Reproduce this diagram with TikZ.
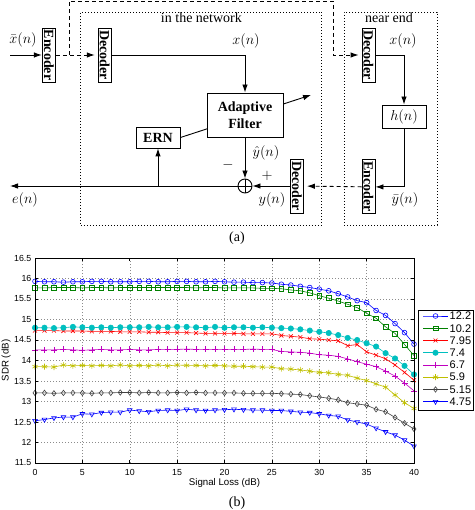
\documentclass[tikz,border=0pt]{standalone}
\usepackage{fontspec}
\setmainfont{Liberation Serif}
\newfontfamily\plotfont{Liberation Sans}
\usepackage{tikz}
\usetikzlibrary{arrows.meta,positioning,calc,plotmarks,backgrounds}
\definecolor{mlgreen}{rgb}{0,0.5,0}
\definecolor{mlcyan}{rgb}{0,0.75,0.75}
\definecolor{mlmag}{rgb}{0.75,0,0.75}
\definecolor{mlyel}{rgb}{0.75,0.75,0}
\definecolor{mlgray}{rgb}{0.25,0.25,0.25}
\tikzset{
  codec/.style={rectangle, draw, line width=0.9pt, font=\bfseries, inner sep=1pt,
                minimum width=13pt, minimum height=54pt, fill=white},
  blk/.style={rectangle, draw, line width=0.9pt, align=center, inner sep=2pt, fill=white},
  region/.style={rectangle, draw, line width=0.9pt, dash pattern=on 0.9pt off 2.1pt},
  sumpt/.style={circle, draw, line width=0.9pt, minimum size=14pt, inner sep=0pt},
  fl/.style={-{Latex[length=8pt,width=5.5pt]}, line width=0.9pt},
  dfl/.style={fl, dash pattern=on 4pt off 3pt, shorten >=3pt},
  sig/.style={inner sep=0pt},
  gridln/.style={black!45, line width=0.4pt, dash pattern=on 0.8pt off 2.2pt},
  crv/.style={line width=0.6pt, mark size=2.4pt},
  cA/.style={crv, color=blue, mark=o},
  cB/.style={crv, color=mlgreen, mark=square},
  cC/.style={crv, color=red, mark=x, mark size=2.8pt},
  cD/.style={crv, color=mlcyan, mark=*, mark size=2.7pt},
  cE/.style={crv, color=mlmag, mark=+, mark size=3pt},
  cF/.style={crv, color=mlyel, mark=asterisk, mark size=3pt},
  cG/.style={crv, color=mlgray, mark=diamond, mark size=2.7pt},
  cH/.style={crv, color=blue, mark=triangle, mark options={rotate=180}, mark size=2.7pt},
  ticklbl/.style={font=\plotfont\fontsize{8.8}{10}\selectfont, inner sep=1pt},
  axlbl/.style={font=\plotfont\fontsize{9.7}{11}\selectfont, inner sep=1pt},
  leglbl/.style={font=\plotfont\fontsize{11}{13}\selectfont, inner sep=0pt, anchor=west},
}

\begin{document}
\begin{tikzpicture}[x=1pt, y=-1pt, execute at begin picture={\fontsize{14}{17}\selectfont}]
\useasboundingbox (0,0) rectangle (474,510);
% (a) echo path
\node[region, minimum width=241pt, minimum height=213pt] (net) at (201.4,118.5) {};
\node[region, minimum width=93pt, minimum height=213pt] (near) at (390.5,118.5) {};
\node[anchor=base] (netlbl) at (201.4,23) {in the network};
\node[anchor=base] (nearlbl) at (389,23) {near end};
\node[codec] (enc1) at (48.8,55) {\rotatebox{-90}{Encoder}};
\node[codec, right=42pt of enc1] (dec1) {\rotatebox{-90}{Decoder}};
\node[codec] (dec3) at (368.5,55) {\rotatebox{-90}{Decoder}};
\node[blk, minimum width=44pt, minimum height=23pt] (hn) at (404,116.5) {$h(n)$};
\node[codec, below=77pt of dec3] (enc2) {\rotatebox{-90}{Encoder}};
\node[codec] (dec2) at (297,186) {\rotatebox{-90}{Decoder}};
\node[blk, font=\bfseries, minimum width=76pt, minimum height=44pt] (af) at (245,115) {Adaptive\\Filter};
\node[blk, font=\bfseries, minimum width=44pt, minimum height=21pt] (ern) at (158,137.5) {ERN};
\node[sumpt] (sum) at (245,186) {};
\draw[line width=0.9pt] (sum.north) -- (sum.south) (sum.west) -- (sum.east);
\node[sig] (lxbar) at (23,40) {$\bar{x}(n)$};
\node[sig] (len) at (25,200) {$e(n)$};
\node[sig] (lx1) at (246,41) {$x(n)$};
\node[sig] (lx2) at (403,41) {$x(n)$};
\node[sig] (lyhat) at (266,153) {$\hat{y}(n)$};
\node[sig] (lminus) at (228,165) {$-$};
\node[sig] (lplus) at (267,176) {$+$};
\node[sig] (ly) at (272,200) {$y(n)$};
\node[sig] (lybar) at (405,200) {$\bar{y}(n)$};
\node (capa) at (237,238) {(a)};
\coordinate (xin) at (10,55);
\coordinate (eout) at (10,186);
\coordinate (tap) at (69.3,55);
\coordinate (tapup) at (69.3,1);
\coordinate (topr) at (333.3,1);
\coordinate (adapt) at (311,95);
\draw[fl] (xin) -- (enc1);
\draw[dfl] (enc1) -- (dec1);
\draw[dfl] (tap) -- (tapup) -- (topr) |- (dec3);
\draw[fl] (dec1) -| (af);
\draw[fl] (af) -- (sum);
\draw[fl] (dec2) -- (sum);
\draw[dfl] (enc2) -- (dec2);
\draw[fl] (dec3) -| (hn);
\draw[fl] (hn) |- (enc2);
\draw[fl] (sum) -- (eout);
\draw[fl] (ern |- sum) -- (ern);
\begin{scope}[on background layer]
\draw[fl] (ern.east) -- (adapt);
\end{scope}
% (b) SDR against signal loss
\begin{scope}[shift={(35,934.5)}, x=9.475pt, y=41pt]
\foreach \gx in {5,10,...,35} \draw[gridln] (\gx,11.5) -- (\gx,16.5);
\foreach \gy in {12,12.5,13,13.5,14,14.5,15,15.5,16} \draw[gridln] (0,\gy) -- (40,\gy);
\draw[cA] plot coordinates {(0,15.93) (1,15.92) (2,15.92) (3,15.91) (4,15.92) (5,15.92) (6,15.93) (7,15.93) (8,15.92) (9,15.92) (10,15.92) (11,15.93) (12,15.93) (13,15.92) (14,15.92) (15,15.93) (16,15.93) (17,15.92) (18,15.92) (19,15.93) (20,15.92) (21,15.91) (22,15.91) (23,15.90) (24,15.90) (25,15.89) (26,15.86) (27,15.84) (28,15.81) (29,15.78) (30,15.74) (31,15.70) (32,15.63) (33,15.55) (34,15.46) (35,15.41) (36,15.22) (37,15.10) (38,14.90) (39,14.68) (40,14.40)};
\draw[cB] plot coordinates {(0,15.77) (1,15.77) (2,15.78) (3,15.78) (4,15.78) (5,15.77) (6,15.78) (7,15.78) (8,15.77) (9,15.78) (10,15.78) (11,15.78) (12,15.78) (13,15.78) (14,15.78) (15,15.78) (16,15.78) (17,15.77) (18,15.78) (19,15.78) (20,15.77) (21,15.77) (22,15.77) (23,15.77) (24,15.76) (25,15.76) (26,15.75) (27,15.72) (28,15.70) (29,15.65) (30,15.58) (31,15.52) (32,15.45) (33,15.37) (34,15.29) (35,15.15) (36,15.03) (37,14.82) (38,14.66) (39,14.39) (40,14.12)};
\draw[cC] plot coordinates {(0,14.73) (1,14.73) (2,14.73) (3,14.72) (4,14.72) (5,14.72) (6,14.71) (7,14.71) (8,14.71) (9,14.70) (10,14.70) (11,14.70) (12,14.69) (13,14.69) (14,14.68) (15,14.68) (16,14.68) (17,14.67) (18,14.66) (19,14.66) (20,14.66) (21,14.66) (22,14.65) (23,14.65) (24,14.65) (25,14.65) (26,14.61) (27,14.59) (28,14.57) (29,14.53) (30,14.52) (31,14.50) (32,14.48) (33,14.36) (34,14.39) (35,14.21) (36,14.13) (37,14.04) (38,13.89) (39,13.71) (40,13.52)};
\draw[cD] plot coordinates {(0,14.80) (1,14.80) (2,14.79) (3,14.80) (4,14.82) (5,14.81) (6,14.80) (7,14.81) (8,14.80) (9,14.81) (10,14.81) (11,14.81) (12,14.82) (13,14.81) (14,14.81) (15,14.82) (16,14.82) (17,14.81) (18,14.80) (19,14.82) (20,14.80) (21,14.81) (22,14.81) (23,14.80) (24,14.81) (25,14.80) (26,14.79) (27,14.78) (28,14.76) (29,14.73) (30,14.70) (31,14.67) (32,14.62) (33,14.55) (34,14.50) (35,14.42) (36,14.34) (37,14.18) (38,14.05) (39,13.87) (40,13.66)};
\draw[cE] plot coordinates {(0,14.26) (1,14.26) (2,14.26) (3,14.27) (4,14.26) (5,14.25) (6,14.26) (7,14.27) (8,14.26) (9,14.26) (10,14.27) (11,14.26) (12,14.26) (13,14.27) (14,14.27) (15,14.27) (16,14.28) (17,14.27) (18,14.27) (19,14.27) (20,14.27) (21,14.27) (22,14.27) (23,14.28) (24,14.27) (25,14.27) (26,14.22) (27,14.21) (28,14.20) (29,14.18) (30,14.14) (31,14.13) (32,14.10) (33,14.04) (34,13.97) (35,13.91) (36,13.85) (37,13.74) (38,13.62) (39,13.45) (40,13.26)};
\draw[cF] plot coordinates {(0,13.85) (1,13.85) (2,13.84) (3,13.89) (4,13.87) (5,13.88) (6,13.87) (7,13.88) (8,13.87) (9,13.89) (10,13.87) (11,13.88) (12,13.87) (13,13.89) (14,13.87) (15,13.89) (16,13.88) (17,13.88) (18,13.87) (19,13.88) (20,13.87) (21,13.86) (22,13.86) (23,13.85) (24,13.84) (25,13.84) (26,13.80) (27,13.79) (28,13.77) (29,13.74) (30,13.71) (31,13.70) (32,13.66) (33,13.64) (34,13.57) (35,13.51) (36,13.43) (37,13.35) (38,13.16) (39,12.97) (40,12.83)};
\draw[cG] plot coordinates {(0,13.21) (1,13.21) (2,13.20) (3,13.21) (4,13.21) (5,13.21) (6,13.20) (7,13.21) (8,13.21) (9,13.22) (10,13.22) (11,13.21) (12,13.22) (13,13.21) (14,13.21) (15,13.22) (16,13.21) (17,13.22) (18,13.21) (19,13.21) (20,13.21) (21,13.21) (22,13.20) (23,13.20) (24,13.20) (25,13.20) (26,13.19) (27,13.18) (28,13.17) (29,13.14) (30,13.11) (31,13.08) (32,13.04) (33,12.97) (34,12.94) (35,12.91) (36,12.81) (37,12.75) (38,12.61) (39,12.47) (40,12.33)};
\draw[cH] plot coordinates {(0,12.53) (1,12.56) (2,12.60) (3,12.62) (4,12.62) (5,12.70) (6,12.69) (7,12.73) (8,12.74) (9,12.74) (10,12.79) (11,12.77) (12,12.75) (13,12.78) (14,12.79) (15,12.78) (16,12.81) (17,12.79) (18,12.78) (19,12.79) (20,12.80) (21,12.81) (22,12.80) (23,12.79) (24,12.79) (25,12.78) (26,12.78) (27,12.76) (28,12.74) (29,12.73) (30,12.70) (31,12.66) (32,12.64) (33,12.55) (34,12.50) (35,12.45) (36,12.35) (37,12.26) (38,12.18) (39,12.06) (40,11.91)};
\draw[line width=0.6pt] (0,11.5) rectangle (40,16.5);
\foreach \gx in {0,5,...,40} {
  \draw[line width=0.6pt] (\gx,11.5) -- ++(0,3pt);
  \draw[line width=0.6pt] (\gx,16.5) -- ++(0,-3pt);
  \node[ticklbl] (tx\gx) at (\gx,11.28) {\gx};
}
\foreach \gy [count=\k] in {11.5,12,12.5,13,13.5,14,14.5,15,15.5,16,16.5} {
  \draw[line width=0.6pt] (0,\gy) -- ++(3pt,0);
  \draw[line width=0.6pt] (40,\gy) -- ++(-3pt,0);
  \node[ticklbl, anchor=east] (ty\k) at (-0.26,\gy) {\gy};
}
\node[axlbl, rotate=90] (ylab) at (-3.05,14) {SDR (dB)};
\node[axlbl] (xlab) at (20,11.01) {Signal Loss (dB)};
\end{scope}
\draw[line width=0.6pt, fill=white] (418,310) rectangle (473.4,410);
\foreach \lab/\sty [count=\i from 0] in {12.2/cA,10.2/cB,7.95/cC,7.4/cD,6.7/cE,5.9/cF,5.15/cG,4.75/cH} {
  \pgfmathsetmacro\ly{316+12.24*\i}
  \draw[\sty, mark indices={2}] plot coordinates {(423,\ly) (435.5,\ly) (448,\ly)};
  \node[leglbl] (leg\i) at (449.5,\ly) {\lab};
}
\node (capb) at (237,503) {(b)};
\end{tikzpicture}
\end{document}
